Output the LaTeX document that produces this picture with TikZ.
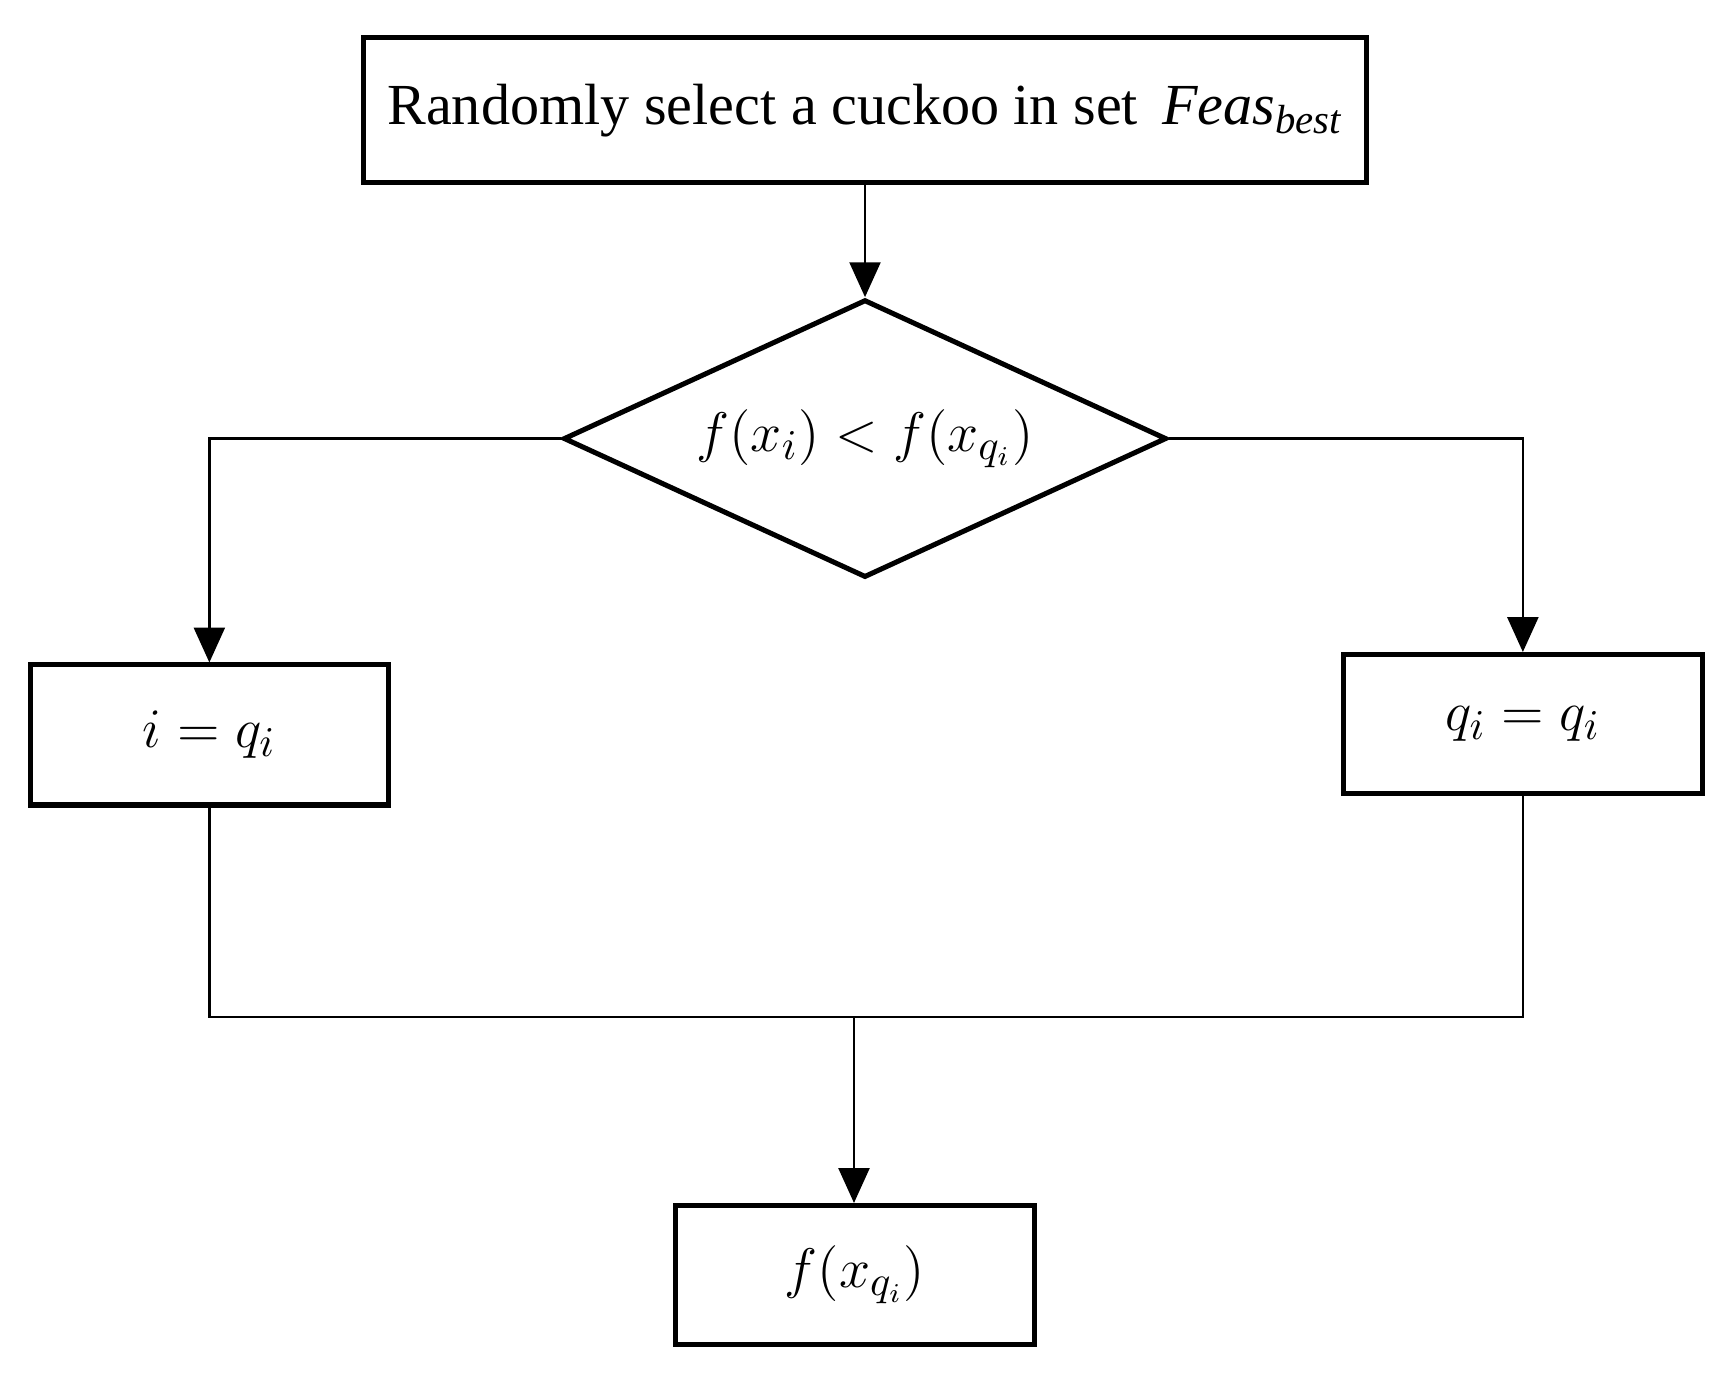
\documentclass[tikz,border=0pt]{standalone}
\usepackage{fontspec}
\setmainfont{Liberation Serif}
\usetikzlibrary{arrows.meta,shapes.geometric}
\begin{document}
\begin{tikzpicture}[x=0.01cm,y=-0.01cm,
  box/.style={draw,line width=1.3pt,inner sep=0pt,font=\fontsize{15}{17}\selectfont},
  con/.style={line width=0.6pt,-{Triangle[length=9pt,width=8pt]}},
  ln/.style={line width=0.6pt}]
\useasboundingbox (0,0) rectangle (1560,1248);
\node[box,minimum width=909\pgflinewidth,minimum width=9.09cm,minimum height=1.31cm] (top) at (785,100) {Randomly select a cuckoo in set \,$\mathit{Feas}_{\mathit{best}}$};
\node[box,diamond,aspect=2.17,minimum width=5.47cm,minimum height=2.52cm] (dec) at (785,398) {$f(x_i)<f(x_{q_i})$};
\node[box,minimum width=3.25cm,minimum height=1.27cm] (L) at (190,667) {$i=q_i$};
\node[box,minimum width=3.26cm,minimum height=1.26cm] (R) at (1382,657) {$q_i=q_i$};
\node[box,minimum width=3.25cm,minimum height=1.26cm] (B) at (776,1157) {$f(x_{q_i})$};
\coordinate (m) at (775,923);
\draw[con] (top) -- (dec);
\draw[con] (dec.west) -| (L.north);
\draw[con] (dec.east) -| (R.north);
\draw[ln] (L.south) |- (m) -| (R.south);
\draw[con] (m) -- (B.north -| m);
\end{tikzpicture}
\end{document}
